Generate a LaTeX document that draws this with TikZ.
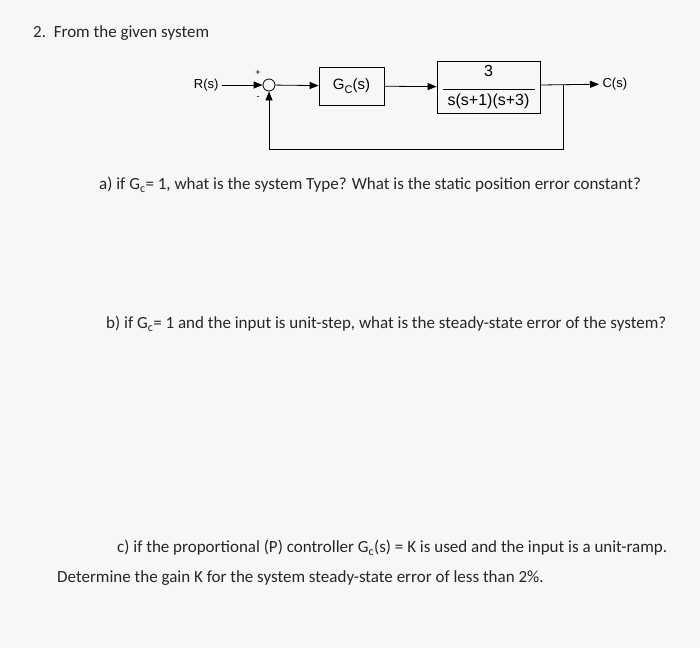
\documentclass[tikz,border=0pt]{standalone}
\usepackage{fontspec}
\setmainfont{Carlito}
\newfontfamily\diafont{Liberation Sans}
\usetikzlibrary{arrows.meta}
\begin{document}
\begin{tikzpicture}[x=1pt,y=-1pt,
  blk/.style={draw,thick,inner sep=3pt,font=\diafont\fontsize{15}{17}\selectfont},
  sig/.style={thick,-{Triangle[length=9pt,width=7pt]}},
  txt/.style={anchor=west,font=\fontsize{17}{20}\selectfont,inner sep=0pt,text=black!85}]
\fill[black!3] (0,0) rectangle (700,648);
\useasboundingbox (0,0) rectangle (700,648);
\node[txt] (t0) at (33,33) {2.\ \ From the given system};
\node[draw,thick,circle,minimum size=12pt,inner sep=0pt] (sum) at (269,85) {};
\node[blk,minimum width=65pt,minimum height=38pt] (gc) at (351.5,86) {G\raisebox{-0.6ex}{\fontsize{11}{12}\selectfont C}(s)};
\node[blk,minimum width=103pt,minimum height=52pt,inner sep=1pt,font=\diafont\fontsize{16}{18}\selectfont] (gp) at (488.5,87) {\begin{tabular}{@{}c@{}}3\\[-4pt]\rule{92pt}{0.8pt}\\[-3pt]s(s+1)(s+3)\end{tabular}};
\node[font=\diafont\fontsize{13}{15}\selectfont,anchor=east] (r) at (222,85) {R(s)};
\node[font=\diafont\fontsize{13}{15}\selectfont,anchor=west] (c) at (599,84) {C(s)};
\coordinate (br) at (563,85);
\coordinate (fb) at (563,149);
\coordinate (fb2) at (269,149);
\draw[sig] (r) -- (sum);
\draw[sig] (sum) -- (gc);
\draw[sig] (gc) -- (gp);
\draw[sig] (gp.east |- br) -- (c);
\draw[sig] (br) -- (fb) -- (fb2) -- (sum);
\node[font=\diafont\small] (pl) at (258,73) {+};
\node[font=\diafont\small] (mi) at (258,98) {-};
\node[txt] (qa) at (99,185) {a) if G$_{\mathrm c}$= 1, what is the system Type? What is the static position error constant?};
\node[txt] (qb) at (106,324) {b) if G$_{\mathrm c}$= 1 and the input is unit-step, what is the steady-state error of the system?};
\node[txt] (qc) at (117,548) {c) if the proportional (P) controller G$_{\mathrm c}$(s) = K is used and the input is a unit-ramp.};
\node[txt] (qd) at (57,578) {Determine the gain K for the system steady-state error of less than 2\%.};
\end{tikzpicture}
\end{document}
